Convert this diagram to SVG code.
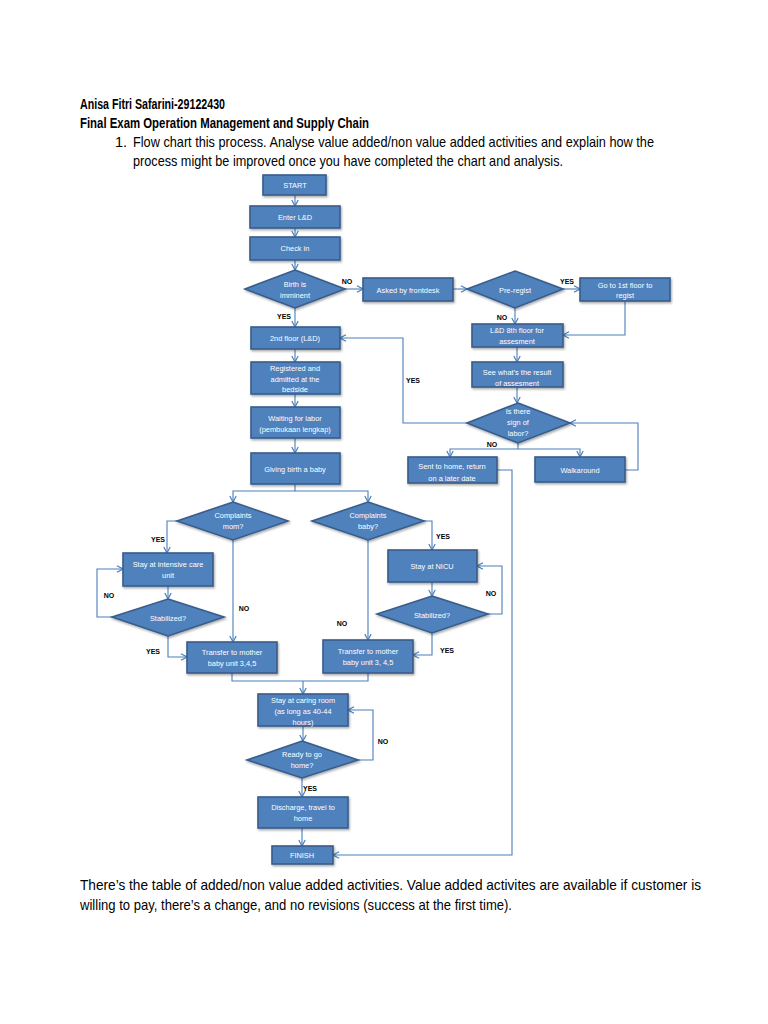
<svg xmlns="http://www.w3.org/2000/svg" width="768" height="1024" viewBox="0 0 768 1024">
<defs>
<marker id="arr" markerUnits="userSpaceOnUse" markerWidth="8" markerHeight="8" refX="7" refY="4" orient="auto">
<polyline points="1,0.8 7,4 1,7.2" fill="none" stroke="#4a7ebb" stroke-width="1.2"/>
</marker>
<filter id="sh" x="-10%" y="-10%" width="130%" height="140%">
<feDropShadow dx="1" dy="1.5" stdDeviation="0.8" flood-color="#000" flood-opacity="0.35"/>
</filter>
</defs>
<style>
.hd{font-family:"Liberation Sans",Arial,sans-serif;font-size:14.5px;fill:#000}
.b{font-weight:bold}
.n rect,.n polygon{fill:#4f81bd;stroke:#385d8a;stroke-width:1.6;filter:url(#sh)}
.n text{font-family:"Liberation Sans",Arial,sans-serif;font-size:7.4px;fill:#fff;text-anchor:middle;dominant-baseline:central}
.c polyline,.c line{fill:none;stroke:#4a7ebb;stroke-width:1.1}
.a{marker-end:url(#arr)}
.lb{font-family:"Liberation Sans",Arial,sans-serif;font-size:7px;font-weight:bold;fill:#000;text-anchor:middle;dominant-baseline:central}
</style>
<rect width="768" height="1024" fill="#fff"/>
<g id="header">
<text class="hd b" x="80" y="109" textLength="145" lengthAdjust="spacingAndGlyphs">Anisa Fitri Safarini-29122430</text>
<text class="hd b" x="80" y="128" textLength="289" lengthAdjust="spacingAndGlyphs">Final Exam Operation Management and Supply Chain</text>
<text class="hd" x="115" y="147">1.</text>
<text class="hd" x="133" y="147" textLength="521" lengthAdjust="spacingAndGlyphs">Flow chart this process. Analyse value added/non value added activities and explain how the</text>
<text class="hd" x="133" y="166" textLength="430" lengthAdjust="spacingAndGlyphs">process might be improved once you have completed the chart and analysis.</text>
</g>
<g id="connectors" class="c">
<line class="a" x1="295" y1="195" x2="295" y2="206"/>
<line class="a" x1="295" y1="228" x2="295" y2="237"/>
<line class="a" x1="295" y1="260" x2="295" y2="270"/>
<line class="a" x1="345" y1="289" x2="363" y2="289"/>
<line class="a" x1="453" y1="289" x2="467" y2="289"/>
<line class="a" x1="563" y1="289" x2="580" y2="289"/>
<line class="a" x1="515" y1="308" x2="515" y2="324"/>
<polyline class="a" points="625,301 625,335 563,335"/>
<line class="a" x1="517" y1="347" x2="517" y2="362"/>
<line class="a" x1="517" y1="387" x2="517" y2="403"/>
<polyline class="a" points="467,423 403,423 403,338 340,338"/>
<polyline class="a" points="518,443 518,449 450,449 450,457"/>
<polyline class="a" points="518,449 580,449 580,457"/>
<polyline class="a" points="625,470 638,470 638,423 570,423"/>
<polyline class="a" points="497,470 512,470 512,855 333,855"/>
<line class="a" x1="295" y1="308" x2="295" y2="327"/>
<line class="a" x1="295" y1="349" x2="295" y2="362"/>
<line class="a" x1="295" y1="394" x2="295" y2="407"/>
<line class="a" x1="295" y1="438" x2="295" y2="453"/>
<polyline class="a" points="295,484 295,491 233,491 233,502"/>
<polyline class="a" points="295,491 368,491 368,502"/>
<polyline class="a" points="177,521 167,521 167,553"/>
<line class="a" x1="168" y1="586" x2="168" y2="599"/>
<polyline class="a" points="112,617 97,617 97,569 123,569"/>
<polyline class="a" points="168,636 168,657 187,657"/>
<line class="a" x1="233" y1="540" x2="233" y2="642"/>
<polyline class="a" points="424,521 432,521 432,550"/>
<line class="a" x1="432" y1="582" x2="432" y2="596"/>
<polyline class="a" points="488,614 502,614 502,566 477,566"/>
<polyline class="a" points="432,633 432,655 413,655"/>
<line class="a" x1="368" y1="540" x2="368" y2="640"/>
<polyline points="232,673 232,681 368,681 368,673"/>
<line class="a" x1="303" y1="681" x2="303" y2="694"/>
<line class="a" x1="303" y1="726" x2="303" y2="741"/>
<polyline class="a" points="358,760 373,760 373,710 348,710"/>
<line class="a" x1="302" y1="778" x2="302" y2="797"/>
<line class="a" x1="302" y1="828" x2="302" y2="846"/>
</g>
<g id="labels">
<text class="lb" x="347" y="281">NO</text>
<text class="lb" x="284" y="316">YES</text>
<text class="lb" x="567" y="281">YES</text>
<text class="lb" x="502" y="317">NO</text>
<text class="lb" x="413" y="380">YES</text>
<text class="lb" x="492" y="444">NO</text>
<text class="lb" x="158" y="539">YES</text>
<text class="lb" x="109" y="595">NO</text>
<text class="lb" x="244" y="608">NO</text>
<text class="lb" x="153" y="651">YES</text>
<text class="lb" x="443" y="536">YES</text>
<text class="lb" x="491" y="593">NO</text>
<text class="lb" x="342" y="623">NO</text>
<text class="lb" x="447" y="650">YES</text>
<text class="lb" x="383" y="741">NO</text>
<text class="lb" x="310" y="788">YES</text>
</g>
<g id="start" class="n"><rect x="263" y="175" width="63" height="20"/><text x="295" y="185">START</text></g>
<g id="enter" class="n"><rect x="250" y="206" width="90" height="22"/><text x="295" y="217">Enter L&amp;D</text></g>
<g id="checkin" class="n"><rect x="250" y="237" width="90" height="23"/><text x="295" y="248">Check in</text></g>
<g id="birth" class="n"><polygon points="295,270 345,289 295,308 245,289"/><text x="295" y="284">Birth is</text><text x="295" y="295">imminent</text></g>
<g id="asked" class="n"><rect x="363" y="278" width="90" height="23"/><text x="408" y="290">Asked by frontdesk</text></g>
<g id="preregist" class="n"><polygon points="515,271 563,289 515,308 467,289"/><text x="515" y="290">Pre-regist</text></g>
<g id="gofirst" class="n"><rect x="580" y="278" width="90" height="23"/><text x="625" y="285">Go to 1st floor to</text><text x="625" y="295">regist</text></g>
<g id="ld8" class="n"><rect x="472" y="324" width="91" height="23"/><text x="517" y="330">L&amp;D 8th floor for</text><text x="517" y="341">assesment</text></g>
<g id="result" class="n"><rect x="472" y="362" width="91" height="25"/><text x="517" y="372">See what’s the result</text><text x="517" y="383">of assesment</text></g>
<g id="sign" class="n"><polygon points="518,403 570,423 518,443 467,423"/><text x="518" y="411">Is there</text><text x="518" y="422">sign of</text><text x="518" y="433">labor?</text></g>
<g id="senthome" class="n"><rect x="408" y="457" width="89" height="26"/><text x="452" y="466">Sent to home, return</text><text x="452" y="478">on a later date</text></g>
<g id="walk" class="n"><rect x="535" y="457" width="90" height="25"/><text x="580" y="470">Walkaround</text></g>
<g id="second" class="n"><rect x="251" y="327" width="89" height="22"/><text x="295" y="338">2nd floor (L&amp;D)</text></g>
<g id="registered" class="n"><rect x="251" y="362" width="89" height="32"/><text x="295" y="368">Registered and</text><text x="295" y="379">admitted at the</text><text x="295" y="389">bedside</text></g>
<g id="waiting" class="n"><rect x="251" y="407" width="89" height="31"/><text x="295" y="418">Waiting for labor</text><text x="295" y="429">(pembukaan lengkap)</text></g>
<g id="giving" class="n"><rect x="251" y="453" width="89" height="31"/><text x="295" y="469">Giving birth a baby</text></g>
<g id="mom" class="n"><polygon points="233,502 288,521 233,540 177,521"/><text x="233" y="515">Complaints</text><text x="233" y="526">mom?</text></g>
<g id="baby" class="n"><polygon points="368,502 424,521 368,540 312,521"/><text x="368" y="515">Complaints</text><text x="368" y="526">baby?</text></g>
<g id="icu" class="n"><rect x="123" y="553" width="90" height="33"/><text x="168" y="564">Stay at intensive care</text><text x="168" y="575">unit</text></g>
<g id="stab1" class="n"><polygon points="168,599 224,617 168,636 112,617"/><text x="168" y="618">Stabilized?</text></g>
<g id="transfer1" class="n"><rect x="187" y="642" width="90" height="31"/><text x="232" y="652">Transfer to mother</text><text x="232" y="663">baby unit 3,4,5</text></g>
<g id="nicu" class="n"><rect x="388" y="550" width="89" height="32"/><text x="432" y="566">Stay at NICU</text></g>
<g id="stab2" class="n"><polygon points="432,596 488,614 432,633 377,614"/><text x="432" y="615">Stabilized?</text></g>
<g id="transfer2" class="n"><rect x="323" y="640" width="90" height="33"/><text x="368" y="651">Transfer to mother</text><text x="368" y="662">baby unit 3, 4,5</text></g>
<g id="caring" class="n"><rect x="258" y="694" width="90" height="32"/><text x="303" y="700">Stay at caring room</text><text x="303" y="711">(as long as 40-44</text><text x="303" y="722">hours)</text></g>
<g id="ready" class="n"><polygon points="302,741 358,760 302,778 247,760"/><text x="302" y="754">Ready to go</text><text x="302" y="765">home?</text></g>
<g id="discharge" class="n"><rect x="258" y="797" width="90" height="31"/><text x="303" y="807">Discharge, travel to</text><text x="303" y="818">home</text></g>
<g id="finish" class="n"><rect x="272" y="846" width="61" height="18"/><text x="302" y="855">FINISH</text></g>
<g id="footer">
<text class="hd" x="80" y="890" textLength="621" lengthAdjust="spacingAndGlyphs">There’s the table of added/non value added activities. Value added activites are available if customer is</text>
<text class="hd" x="80" y="910" textLength="432" lengthAdjust="spacingAndGlyphs">willing to pay, there’s a change, and no revisions (success at the first time).</text>
</g>
</svg>
